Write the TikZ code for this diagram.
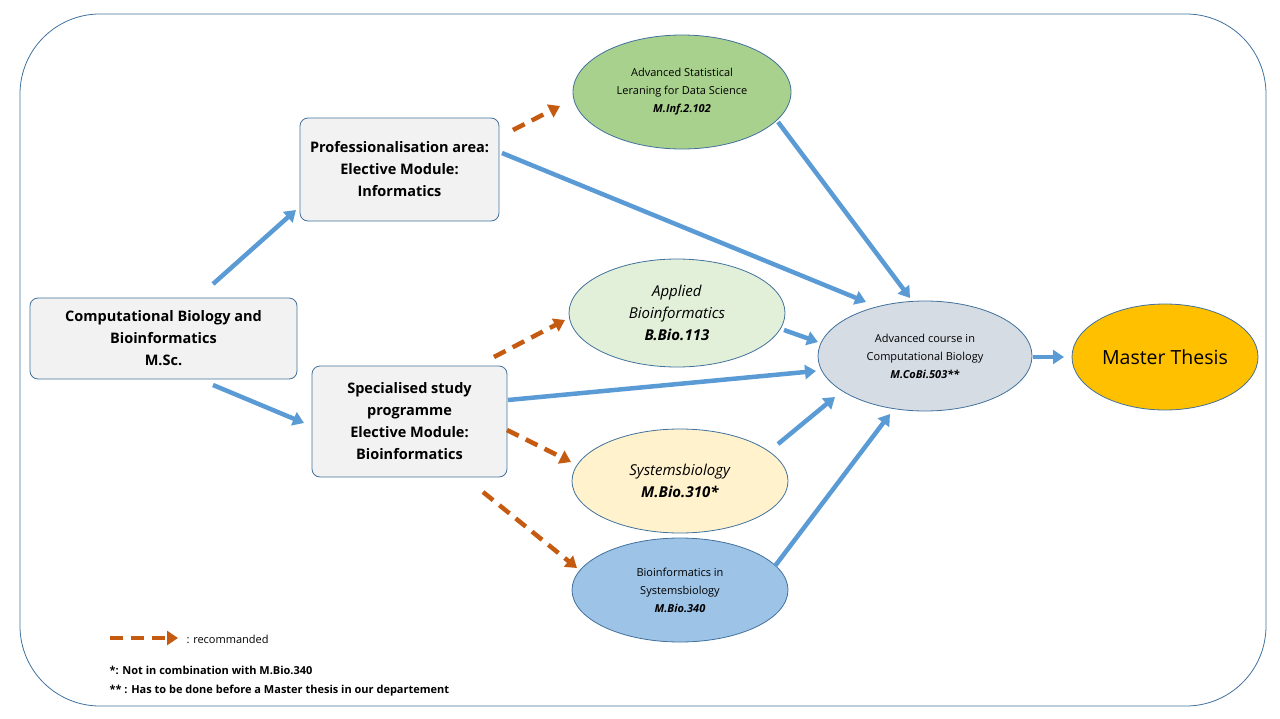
\documentclass[tikz,border=0pt]{standalone}
\usepackage{fontspec}
\setmainfont{Open Sans}
\usetikzlibrary{shapes.geometric,arrows.meta}
\definecolor{myedge}{HTML}{41719C}
\definecolor{boxfill}{HTML}{F2F2F2}
\definecolor{arrblue}{HTML}{5B9BD5}
\definecolor{arrorange}{HTML}{C55A11}
\definecolor{cads}{HTML}{A9D18E}
\definecolor{capp}{HTML}{E2F0D9}
\definecolor{csys}{HTML}{FFF2CC}
\definecolor{cbis}{HTML}{9DC3E6}
\definecolor{cadv}{HTML}{D6DCE4}
\definecolor{cmt}{HTML}{FFC000}
\begin{document}
\begin{tikzpicture}[x=1pt,y=-1pt,
 box/.style={draw=myedge,fill=boxfill,rounded corners=8pt,line width=0.8pt,align=center,font=\bfseries\fontsize{14.5}{22}\selectfont},
 ell/.style={ellipse,draw=myedge,line width=0.8pt,align=center,inner sep=0pt},
 bl/.style={draw=arrblue,line width=4.5pt,-{Triangle[length=11pt,width=14pt]}},
 or/.style={draw=arrorange,line width=4.5pt,dash pattern=on 13pt off 8pt,-{Triangle[length=11pt,width=14pt]}}]
\useasboundingbox (0,0) rectangle (1280,718);
\draw[myedge,line width=0.8pt,rounded corners=80pt] (20,14) rectangle (1266,706);
\node[box,minimum width=267pt,minimum height=81pt] (cb) at (163.5,338.5) {Computational Biology and\\Bioinformatics\\M.Sc.};
\node[box,minimum width=199pt,minimum height=103pt] (prof) at (399.5,169.5) {Professionalisation area:\\Elective Module:\\Informatics};
\node[box,minimum width=195pt,minimum height=111pt] (spec) at (409.5,421.5) {Specialised study\\programme\\Elective Module:\\Bioinformatics};
\node[ell,fill=cads,minimum width=218pt,minimum height=114pt,font=\fontsize{11}{18}\selectfont] (ads) at (682,92) {Advanced Statistical\\Leraning for Data Science\\\textbf{\textit{M.Inf.2.102}}};
\node[ell,fill=capp,minimum width=216pt,minimum height=108pt,font=\fontsize{15}{22}\selectfont] (app) at (677,313) {\textit{Applied}\\\textit{Bioinformatics}\\\textbf{\textit{B.Bio.113}}};
\node[ell,fill=csys,minimum width=216pt,minimum height=104pt,font=\fontsize{15}{22}\selectfont] (sys) at (680,481) {\textit{Systemsbiology}\\\textbf{\textit{M.Bio.310*}}};
\node[ell,fill=cbis,minimum width=216pt,minimum height=104pt,font=\fontsize{11}{18}\selectfont] (bis) at (680,590) {Bioinformatics in\\Systemsbiology\\\textbf{\textit{M.Bio.340}}};
\node[ell,fill=cadv,minimum width=214pt,minimum height=110pt,font=\fontsize{11}{18}\selectfont] (adv) at (925,356) {Advanced course in\\Computational Biology\\\textbf{\textit{M.CoBi.503**}}};
\node[ell,fill=cmt,minimum width=186pt,minimum height=106pt,font=\fontsize{19.5}{24}\selectfont] (mt) at (1165,357) {Master Thesis};
\coordinate (a1) at (213,284); \coordinate (a2) at (296,210);
\coordinate (b1) at (213,385); \coordinate (b2) at (304,423);
\coordinate (c1) at (513,130); \coordinate (c2) at (560,106);
\coordinate (d1) at (502,153); \coordinate (d2) at (866,302);
\coordinate (e1) at (778,122); \coordinate (e2) at (910,298);
\coordinate (f1) at (494,357); \coordinate (f2) at (565,320);
\coordinate (g1) at (784,330); \coordinate (g2) at (818,342);
\coordinate (h1) at (508,400); \coordinate (h2) at (816,371);
\coordinate (i1) at (507,430); \coordinate (i2) at (571,462);
\coordinate (j1) at (778,444); \coordinate (j2) at (835,397);
\coordinate (k1) at (483,492); \coordinate (k2) at (577,568);
\coordinate (l1) at (775,566); \coordinate (l2) at (890,414);
\coordinate (m1) at (1033,357); \coordinate (m2) at (1064,357);
\draw[bl] (a1)--(a2); \draw[bl] (b1)--(b2);
\draw[or] (c1)--(c2); \draw[bl] (d1)--(d2);
\draw[bl] (e1)--(e2); \draw[or] (f1)--(f2);
\draw[bl] (g1)--(g2); \draw[bl] (h1)--(h2);
\draw[or] (i1)--(i2); \draw[bl] (j1)--(j2);
\draw[or] (k1)--(k2); \draw[bl] (l1)--(l2);
\draw[bl] (m1)--(m2);
\coordinate (n1) at (110,638); \coordinate (n2) at (178,638);
\draw[or] (n1)--(n2);
\node[anchor=west,font=\fontsize{11}{14}\selectfont] (leg) at (183,639) {: recommanded};
\node[anchor=west,font=\bfseries\fontsize{11}{14}\selectfont] (f1t) at (106,670) {*: Not in combination with M.Bio.340};
\node[anchor=west,font=\bfseries\fontsize{11}{14}\selectfont] (f2t) at (106,691) {** : Has to be done before a Master thesis in our departement};
\end{tikzpicture}
\end{document}
